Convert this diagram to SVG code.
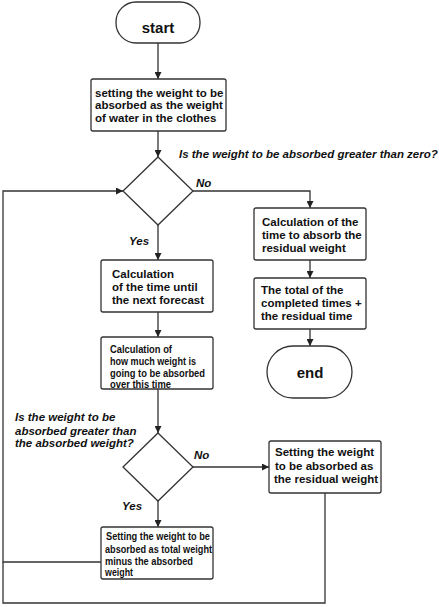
<svg xmlns="http://www.w3.org/2000/svg" width="439" height="607" viewBox="0 0 439 607">
<defs>
<marker id="ah" markerUnits="userSpaceOnUse" markerWidth="8" markerHeight="7" refX="7" refY="3.5" orient="auto">
<path d="M0,0 L7,3.5 L0,7 z" fill="#222"/>
</marker>
<style>
.shape{fill:#fff;stroke:#333;stroke-width:1.3}
.t{font-family:"Liberation Sans",Arial,sans-serif;font-weight:bold;font-size:11.5px;fill:#111}
.c{font-family:"Liberation Sans",Arial,sans-serif;font-weight:bold;font-size:10.5px;fill:#111}
.q{font-family:"Liberation Sans",Arial,sans-serif;font-weight:bold;font-style:italic;font-size:11.5px;fill:#111}
.big{font-family:"Liberation Sans",Arial,sans-serif;font-weight:bold;font-size:15px;fill:#111;text-anchor:middle}
.ln{fill:none;stroke:#333;stroke-width:1.3}
</style>
</defs>
<rect width="439" height="607" fill="#fff"/>
<g id="connectors">
<path class="ln" d="M158 43 V79" marker-end="url(#ah)"/>
<path class="ln" d="M158 131 V157" marker-end="url(#ah)"/>
<path class="ln" d="M193 191 H310 V208" marker-end="url(#ah)"/>
<path class="ln" d="M158 225 V260" marker-end="url(#ah)"/>
<path class="ln" d="M310 260 V278" marker-end="url(#ah)"/>
<path class="ln" d="M310 329 V346" marker-end="url(#ah)"/>
<path class="ln" d="M158 312 V337" marker-end="url(#ah)"/>
<path class="ln" d="M158 389 V433" marker-end="url(#ah)"/>
<path class="ln" d="M193 467 H269" marker-end="url(#ah)"/>
<path class="ln" d="M158 501 V527" marker-end="url(#ah)"/>
<path class="ln" d="M101 562 H3 V191 H123" marker-end="url(#ah)"/>
<path class="ln" d="M325 493 V603 H3 V562"/>
<text class="q" x="196" y="187">No</text>
<text class="q" x="129" y="245">Yes</text>
<text class="q" x="194" y="459">No</text>
<text class="q" x="122" y="510">Yes</text>
</g>
<g id="start">
<rect class="shape" x="116" y="2" width="84" height="41" rx="20"/>
<text class="big" x="158" y="33">start</text>
</g>
<g id="set-weight">
<rect class="shape" x="91" y="79" width="135" height="52" rx="2"/>
<text class="t" x="95" y="96.5">setting the weight to be</text>
<text class="t" x="95" y="109">absorbed as the weight</text>
<text class="t" x="95" y="121.5">of water in the clothes</text>
</g>
<g id="decision1">
<polygon class="shape" points="158,157 193,191 158,225 123,191"/>
<text class="q" x="179" y="158">Is the weight to be absorbed greater than zero?</text>
</g>
<g id="calc-residual">
<rect class="shape" x="254" y="208" width="112" height="52" rx="2"/>
<text class="t" x="262" y="226">Calculation of the</text>
<text class="t" x="262" y="239">time to absorb the</text>
<text class="t" x="262" y="252">residual weight</text>
</g>
<g id="total">
<rect class="shape" x="254" y="278" width="112" height="51" rx="2"/>
<text class="t" x="261" y="294">The total of the</text>
<text class="t" x="261" y="307">completed times +</text>
<text class="t" x="261" y="320">the residual time</text>
</g>
<g id="end">
<rect class="shape" x="267" y="346" width="85" height="52" rx="26"/>
<text class="big" x="310" y="378">end</text>
</g>
<g id="calc-time">
<rect class="shape" x="101" y="260" width="112" height="52" rx="2"/>
<text class="t" x="112" y="278">Calculation</text>
<text class="t" x="112" y="291">of the time until</text>
<text class="t" x="112" y="304">the next forecast</text>
</g>
<g id="calc-weight">
<rect class="shape" x="101" y="337" width="112" height="52" rx="2"/>
<text class="c" x="110" y="353" textLength="62" lengthAdjust="spacingAndGlyphs">Calculation of</text>
<text class="c" x="110" y="365" textLength="86" lengthAdjust="spacingAndGlyphs">how much weight is</text>
<text class="c" x="110" y="377" textLength="95" lengthAdjust="spacingAndGlyphs">going to be absorbed</text>
<text class="c" x="110" y="388" textLength="61" lengthAdjust="spacingAndGlyphs">over this time</text>
</g>
<g id="decision2">
<polygon class="shape" points="158,433 193,467 158,501 123,467"/>
<text class="q" x="15" y="421">Is the weight to be</text>
<text class="q" x="15" y="434.5">absorbed greater than</text>
<text class="q" x="15" y="447">the absorbed weight?</text>
</g>
<g id="set-residual">
<rect class="shape" x="269" y="441" width="112" height="52" rx="2"/>
<text class="t" x="275" y="456">Setting the weight</text>
<text class="t" x="275" y="470">to be absorbed as</text>
<text class="t" x="274" y="483">the residual weight</text>
</g>
<g id="set-total">
<rect class="shape" x="101" y="527" width="112" height="52" rx="2"/>
<text class="c" x="106" y="540" textLength="104" lengthAdjust="spacingAndGlyphs">Setting the weight to be</text>
<text class="c" x="105" y="553" textLength="107" lengthAdjust="spacingAndGlyphs">absorbed as total weight</text>
<text class="c" x="105" y="564.5" textLength="88" lengthAdjust="spacingAndGlyphs">minus the absorbed</text>
<text class="c" x="105" y="576" textLength="28" lengthAdjust="spacingAndGlyphs">weight</text>
</g>
</svg>
